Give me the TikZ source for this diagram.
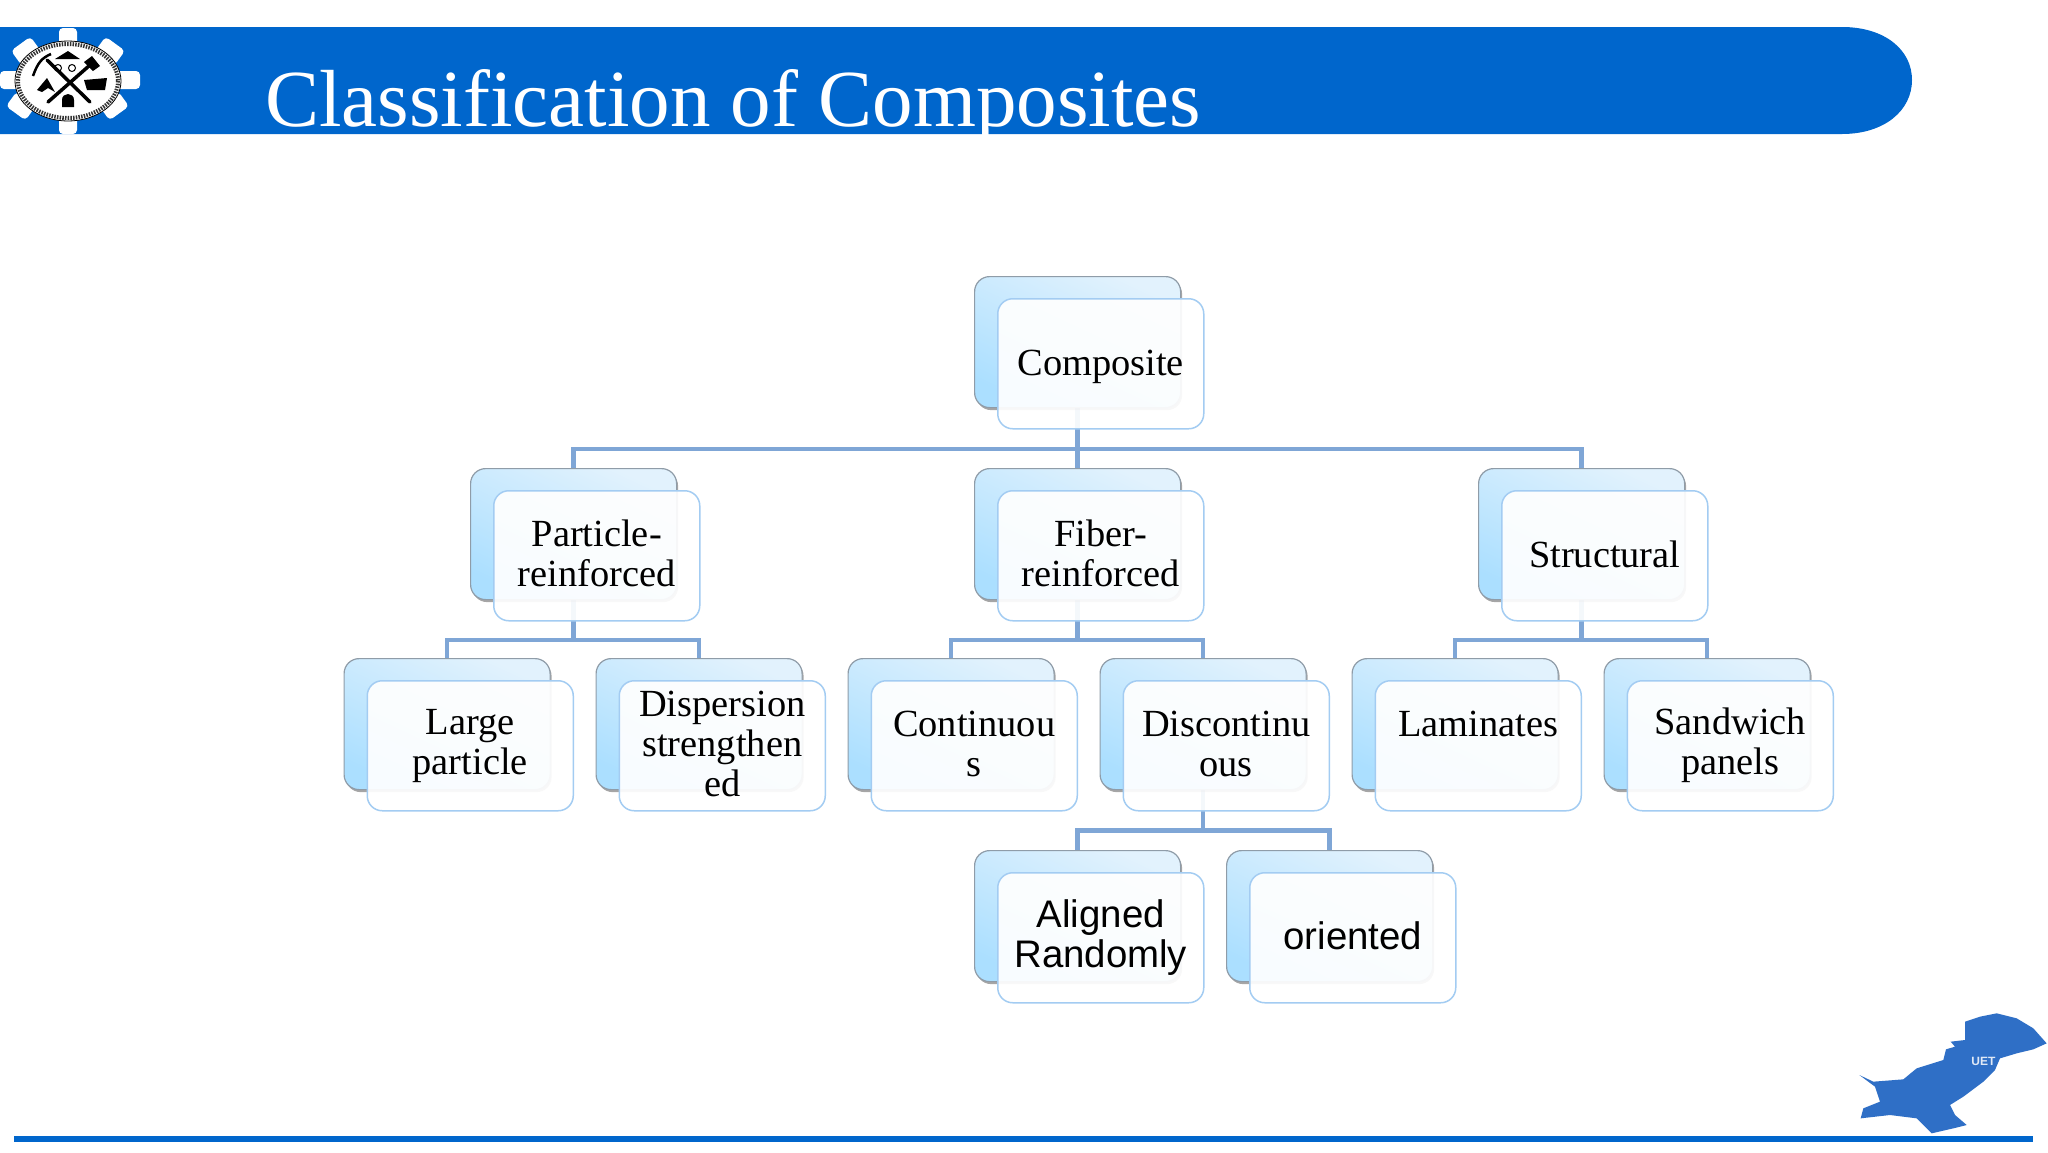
\documentclass[tikz,border=0pt]{standalone}
\usepackage{fontspec}
\setmainfont{Liberation Serif}
\newfontfamily\arialf{Liberation Sans}
\usetikzlibrary{shadows}
\definecolor{banner}{HTML}{0066CC}
\definecolor{mapblue}{HTML}{2F6FC6}
\definecolor{conn}{HTML}{7FA6D6}
\definecolor{backline}{HTML}{8F9CA8}
\definecolor{frontline}{HTML}{A3CCF2}
\definecolor{backtop}{HTML}{E2F2FD}
\definecolor{backbot}{HTML}{ABDFFF}
\pgfdeclarelayer{bg}
\pgfsetlayers{bg,main}
\newcommand{\st}{\rule[-5.5pt]{0pt}{34.5pt}}
\newcommand{\stlow}{\rule[-3.5pt]{0pt}{36.5pt}}
\tikzset{
  backbox/.style={draw=backline,line width=1.2pt,rounded corners=15pt,minimum width=206pt,minimum height=131pt,inner sep=0pt,anchor=north west,
    top color=backtop,bottom color=backbot,shading angle=-25,
    drop shadow={shadow xshift=1.5pt,shadow yshift=-2.5pt,opacity=.35,fill=black}},
  frontbox/.style={draw=frontline,line width=1.5pt,rounded corners=15pt,minimum width=206pt,minimum height=130pt,inner sep=0pt,anchor=north west,
    fill=white,fill opacity=.92,text opacity=1,draw opacity=1,align=center,font=\fontsize{38.4}{40}\selectfont},
  rowmid/.style={execute at begin node=\st,execute at end node=\st},
  rowlow/.style={execute at begin node=\stlow,execute at end node=\stlow},
  sanstext/.style={font=\arialf\fontsize{38.4}{40}\selectfont},
  connector/.style={draw=conn,line width=4.5pt},
  logoline/.style={line width=3.5pt,black,line cap=round},
}
\newcommand{\ubox}[5][rowmid]{%
  \node[backbox] (#2B) at (#3,#4) {};
  \node[frontbox,#1] (#2F) at (#3+23,#4+22) {#5};
}
\begin{document}
\begin{tikzpicture}[x=1pt,y=-1pt]
\useasboundingbox (0,0) rectangle (2048,1152);
\begin{pgfonlayer}{bg}
\fill[white] (0,0) rectangle (2048,1152);
\end{pgfonlayer}

% banner
\fill[banner] (0,27) -- (1842,27) .. controls (1885,27) and (1912,50) .. (1912,80) .. controls (1912,110) and (1885,134) .. (1842,134) -- (0,134) -- cycle;
\node[anchor=base west,text=white,inner sep=0pt,font=\fontsize{81}{81}\selectfont] (title) at (265,126) {Classification of Composites};

% logo
\foreach \a/\b/\r in {68/40/90,110/51/-36,128/80/0,114/106/36,68/122/90,21/106/-36,12/80/0,26/51/36}
  \fill[white,rounded corners=4pt,shift={(\a,\b)},rotate=\r] (-12,-9) rectangle (12,9);
\fill[white] (68,81) ellipse[x radius=53,y radius=40];
\draw[black!80,line width=4pt,dash pattern=on 1.5pt off 1.2pt] (68,81) ellipse[x radius=50,y radius=37];
\draw[black,line width=.8pt] (68,81) ellipse[x radius=53,y radius=40];
\draw[logoline] (90,102) -- (47,60);
\draw[logoline] (48,102) -- (90,65);
\draw[black,line width=2.5pt] (33,76) .. controls (38,62) and (42,58) .. (51,54);
\fill[black] (84,62) -- (92,56) -- (100,66) -- (93,71) -- cycle;
\fill[black] (55,59) -- (68,51) -- (80,59) -- cycle;
\draw[black,line width=1pt] (58,68) circle[radius=3.5] (72,68) circle[radius=3.5];
\fill[black] (62,107) -- (62,100) .. controls (62,92) and (74,92) .. (74,100) -- (74,107) -- cycle;
\fill[black] (84,80) -- (107,78) -- (105,90) -- (87,90) -- cycle;
\fill[black] (37,90) -- (47,78) -- (55,92) -- (48,88) -- (42,92) -- cycle;

% bottom rule and map
\fill[banner] (14,1136) rectangle (2033,1142);
\begin{scope}[shift={(1820,990)},x=1pt/3,y=-1pt/3]
\fill[mapblue] (118,255) -- (160,275) -- (250,268) -- (290,235) -- (370,210) -- (378,178) -- (405,170) -- (392,155) -- (435,150) -- (435,95) -- (480,80) -- (530,70) -- (590,85) -- (640,115) -- (680,160) -- (640,178) -- (590,190) -- (540,205) -- (525,240) -- (490,275) -- (430,320) -- (390,345) -- (405,375) -- (440,405) -- (400,415) -- (335,430) -- (290,385) -- (210,375) -- (122,385) -- (130,355) -- (180,335) -- (165,290) -- cycle;
\node[text=white!85!mapblue,inner sep=0pt,font=\arialf\bfseries\fontsize{12}{12}\selectfont] (uet) at (490,213) {UET};
\end{scope}

% boxes
\ubox{comp}{974}{276}{\raisebox{-2pt}{Composite}}
\ubox{part}{470}{468}{Particle-\\reinforced}
\ubox{fibr}{974}{468}{Fiber-\\reinforced}
\ubox{stru}{1478}{468}{Structural}
\ubox[rowlow]{larg}{343.5}{658}{Large\\particle}
\ubox[rowlow]{disp}{595.5}{658}{Dispersion\\strengthen\\ed}
\ubox[rowlow]{cont}{847.5}{658}{Continuou\\s}
\ubox[rowlow]{disc}{1099.5}{658}{Discontinu\\ous}
\ubox[rowlow]{lami}{1351.5}{658}{Laminates\\}
\ubox[rowlow]{sand}{1603.5}{658}{Sandwich\\panels}
\ubox[rowmid,sanstext]{algn}{974}{850}{Aligned\\Randomly}
\ubox[rowmid,sanstext]{orie}{1226}{850}{oriented}

% connectors
\coordinate (busA) at (0,449);
\coordinate (busB) at (0,640);
\coordinate (busC) at (0,830.5);
\begin{pgfonlayer}{bg}
\foreach \c in {part,fibr,stru}
  \draw[connector] (compB.south) -- (compB.south |- busA) -| (\c B.north);
\foreach \p/\c in {part/larg,part/disp,fibr/cont,fibr/disc,stru/lami,stru/sand}
  \draw[connector] (\p B.south) -- (\p B.south |- busB) -| (\c B.north);
\foreach \c in {algn,orie}
  \draw[connector] (discB.south) -- (discB.south |- busC) -| (\c B.north);
\end{pgfonlayer}
\end{tikzpicture}
\end{document}
